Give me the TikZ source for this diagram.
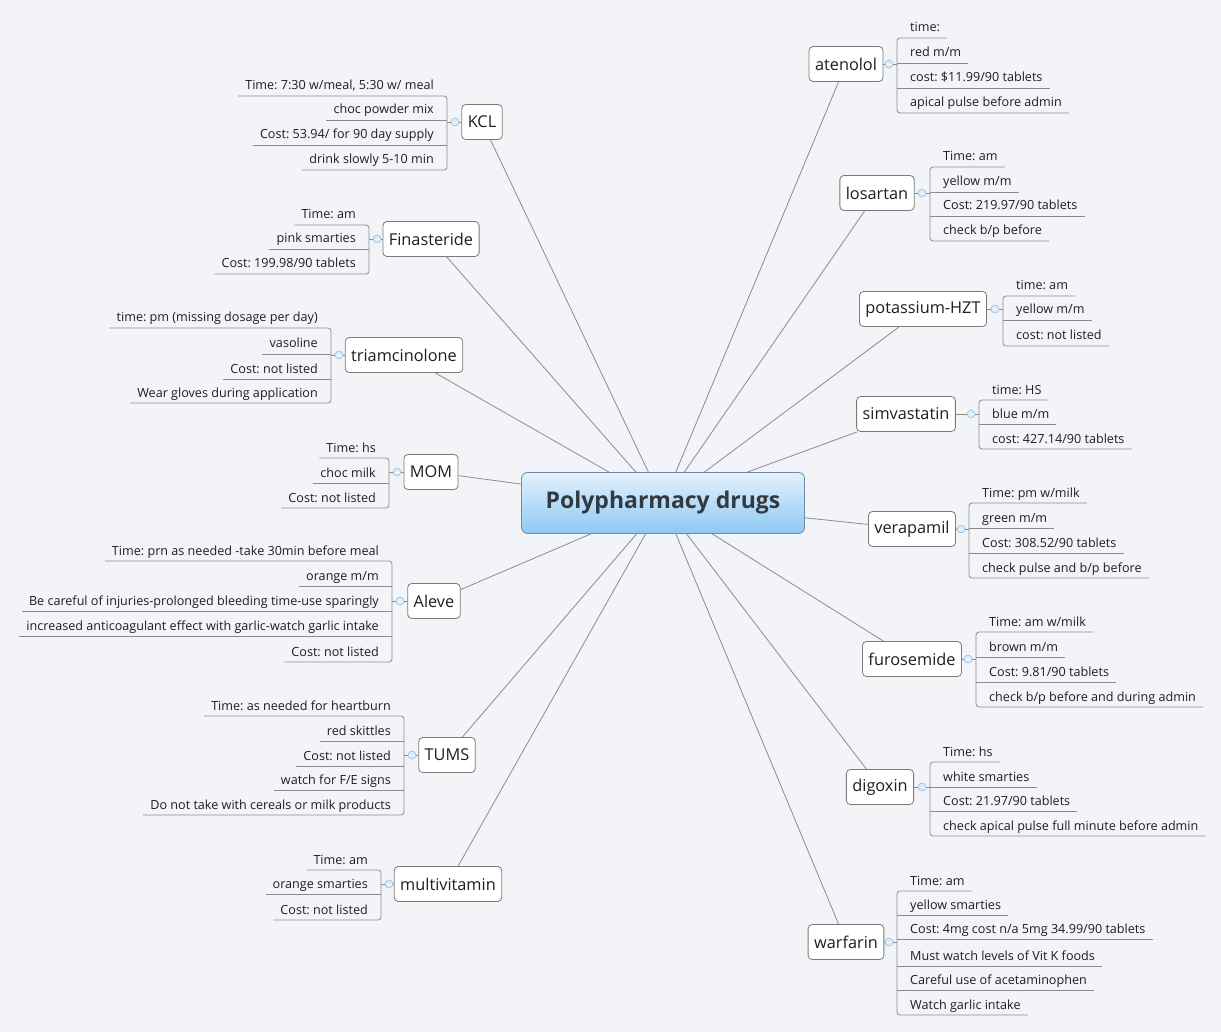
\documentclass[tikz,border=0pt]{standalone}
\usepackage{fontspec}
\setmainfont{Open Sans}
\frenchspacing
\definecolor{bg}{HTML}{F3F4F8}
\definecolor{ln}{HTML}{8C8C8C}
\definecolor{bd}{HTML}{7A7A7A}
\definecolor{tx}{HTML}{1E1E1E}
\definecolor{ctop}{HTML}{E3F1FD}
\definecolor{cbot}{HTML}{8FC8F4}
\definecolor{cbd}{HTML}{6F8CA5}
\definecolor{tgf}{HTML}{D9EAF8}
\definecolor{tgd}{HTML}{9DBFDD}
\tikzset{
 leaf/.style={inner sep=0pt,text=tx,font=\fontsize{12.6}{14}\selectfont},
 uline/.style={draw=ln,line width=0.8pt},
 drug/.style={draw=bd,fill=white,rounded corners=4pt,minimum height=35pt,inner xsep=6pt,text=tx,font=\fontsize{16.3}{19}\selectfont,line width=0.8pt},
 hub/.style={draw=cbd,top color=ctop,bottom color=cbot,rounded corners=6pt,minimum width=283pt,minimum height=61pt,text=tx!75!cbd,font=\fontsize{23}{27}\selectfont\bfseries,line width=0.8pt},
 tog/.style={circle,draw=tgd,fill=tgf,minimum size=8pt,inner sep=0pt,line width=0.6pt},
}
\begin{document}
\begin{tikzpicture}[x=1pt,y=-1pt]
\fill[bg] (0,0) rectangle (1221,1032);
\useasboundingbox (0,0) rectangle (1221,1032);

\node[hub] (hub) at (663,503) {Polypharmacy drugs};

\node[drug] (aten) at (846,64) {atenolol};
\node[drug] (losa) at (877,193) {losartan};
\node[drug] (pota) at (923,309) {potassium-HZT};
\node[drug] (simv) at (906,414) {simvastatin};
\node[drug] (vera) at (912,529) {verapamil};
\node[drug] (furo) at (912,659) {furosemide};
\node[drug] (digo) at (880,787) {digoxin};
\node[drug] (warf) at (846,942) {warfarin};
\node[drug] (kcl) at (482,122) {KCL};
\node[drug] (fina) at (431,239) {Finasteride};
\node[drug] (tria) at (404,355) {triamcinolone};
\node[drug] (mom) at (431,472) {MOM};
\node[drug] (alev) at (434,601) {Aleve};
\node[drug] (tums) at (447,755) {TUMS};
\node[drug] (mult) at (448,884) {multivitamin};

\foreach \d in {aten,losa,pota,simv,vera,furo,digo,warf,kcl,fina,tria,mom,alev,tums,mult}
  \draw[uline] (hub) -- (\d);

\foreach \p/\d/\bx/\cy/\lst in {
 a/aten/897/64/{38/{time:},63/{red m/m},88/{cost: \$11.99/90 tablets},113/{apical pulse before admin}},
 l/losa/930/193/{167/{Time: am},192/{yellow m/m},216/{Cost: 219.97/90 tablets},241/{check b/p before}},
 p/pota/1003/309/{296/{time: am},320/{yellow m/m},346/{cost: not listed}},
 s/simv/979/414/{400/{time: HS},424/{blue m/m},449/{cost: 427.14/90 tablets}},
 v/vera/969/529/{503/{Time: pm w/milk},528/{green m/m},553/{Cost: 308.52/90 tablets},578/{check pulse and b/p before}},
 f/furo/976/659/{632/{Time: am w/milk},657/{brown m/m},682/{Cost: 9.81/90 tablets},707/{check b/p before and during admin}},
 g/digo/930/787/{762/{Time: hs},787/{white smarties},811/{Cost: 21.97/90 tablets},836/{check apical pulse full minute before admin}},
 w/warf/897/942/{891/{Time: am},915/{yellow smarties},939/{Cost: 4mg cost n/a 5mg 34.99/90 tablets},966/{Must watch levels of Vit K foods},990/{Careful use of acetaminophen},1015/{Watch garlic intake}}}
{
 \foreach \yy/\tt [count=\i] in \lst {
   \node[leaf,anchor=base west] (\p\i) at (\bx+13,\yy-6) {\tt};
   \xdef\lasti{\i}\xdef\lasty{\yy}
 }
 \foreach \yy/\tt [count=\i] in \lst {\ifnum\i=1 \xdef\firsty{\yy}\fi}
 \foreach \i in {2,...,\lasti} {\ifnum\i<\lasti \draw[uline] (\bx,0 |- \p\i.base) ++(0,6) -- ([shift={(7pt,-6pt)}]\p\i.base east);\fi}
 \draw[uline,rounded corners=3pt] ([shift={(7pt,-6pt)}]\p1.base east) -- (\bx,\firsty) -- (\bx,\lasty) -- ([shift={(7pt,-6pt)}]\p\lasti.base east);
 \node[tog] (\p c) at (\bx-8,\cy) {};
 \draw[uline] (\d.east) -- (\p c);
 \draw[uline] (\p c) -- (\bx,\cy);
 \draw[white,line width=0.8pt] ([xshift=-2.5pt]\p c.center) -- ([xshift=2.5pt]\p c.center);
}

\foreach \p/\d/\bx/\cy/\lst in {
 k/kcl/447/122/{96/{Time: 7:30 w/meal, 5:30 w/ meal},120/{choc powder mix},145/{Cost: 53.94/ for 90 day supply},170/{drink slowly 5-10 min}},
 n/fina/369/239/{225/{Time: am},249/{pink smarties},274/{Cost: 199.98/90 tablets}},
 t/tria/331/355/{328/{time: pm (missing dosage per day)},354/{vasoline},379/{Cost: not listed},403/{Wear gloves during application}},
 m/mom/389/472/{458/{Time: hs},483/{choc milk},508/{Cost: not listed}},
 e/alev/392/601/{561/{Time: prn as needed -take 30min before meal},586/{orange m/m},611/{Be careful of injuries-prolonged bleeding time-use sparingly},636/{increased anticoagulant effect with garlic-watch garlic intake},662/{Cost: not listed}},
 u/tums/404/755/{716/{Time: as needed for heartburn},741/{red skittles},766/{Cost: not listed},790/{watch for F/E signs},815/{Do not take with cereals or milk products}},
 x/mult/381/884/{870/{Time: am},894/{orange smarties},920/{Cost: not listed}}}
{
 \foreach \yy/\tt [count=\i] in \lst {
   \node[leaf,anchor=base east] (\p\i) at (\bx-13,\yy-6) {\tt};
   \xdef\lasti{\i}\xdef\lasty{\yy}
 }
 \foreach \yy/\tt [count=\i] in \lst {\ifnum\i=1 \xdef\firsty{\yy}\fi}
 \foreach \i in {2,...,\lasti} {\ifnum\i<\lasti \draw[uline] (\bx,0 |- \p\i.base) ++(0,6) -- ([shift={(-7pt,-6pt)}]\p\i.base west);\fi}
 \draw[uline,rounded corners=3pt] ([shift={(-7pt,-6pt)}]\p1.base west) -- (\bx,\firsty) -- (\bx,\lasty) -- ([shift={(-7pt,-6pt)}]\p\lasti.base west);
 \node[tog] (\p c) at (\bx+8,\cy) {};
 \draw[uline] (\d.west) -- (\p c);
 \draw[uline] (\p c) -- (\bx,\cy);
 \draw[white,line width=0.8pt] ([xshift=-2.5pt]\p c.center) -- ([xshift=2.5pt]\p c.center);
}
\end{tikzpicture}
\end{document}
